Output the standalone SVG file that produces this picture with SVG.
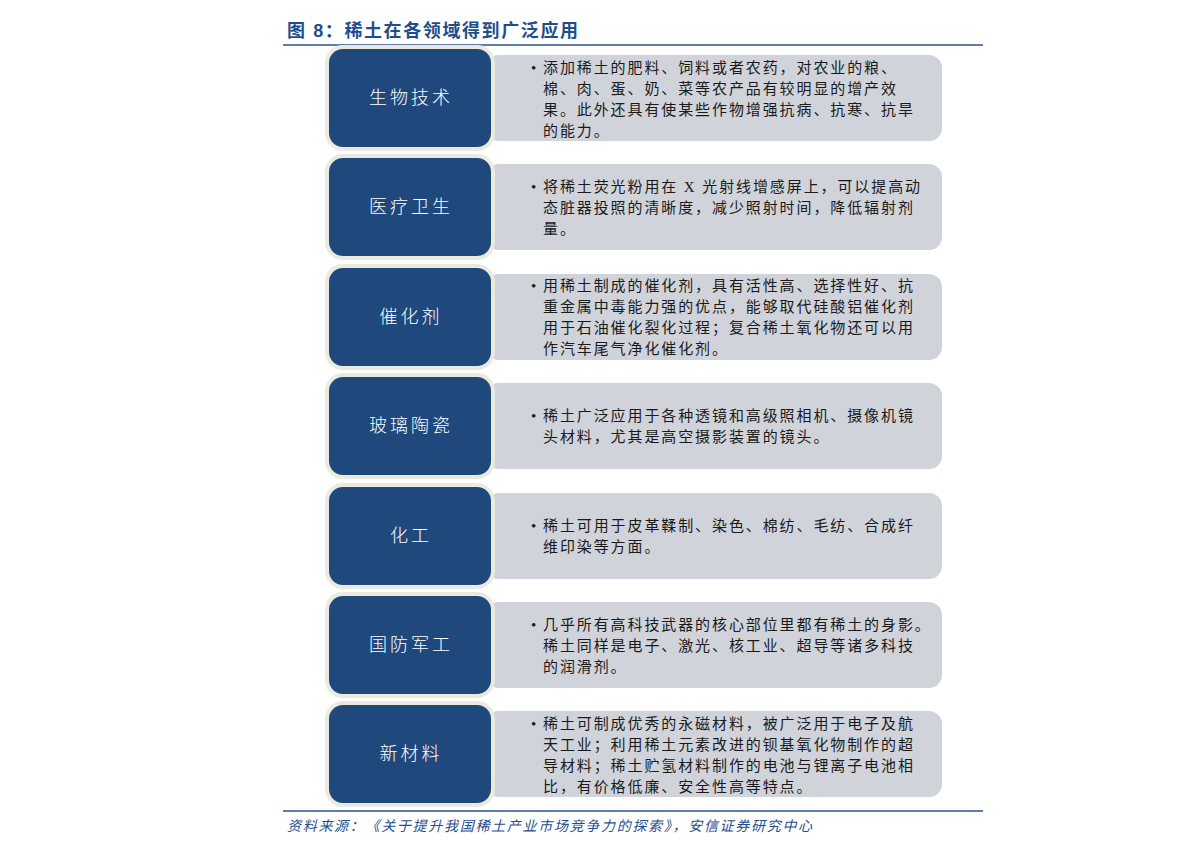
<svg xmlns="http://www.w3.org/2000/svg" width="1191" height="853" viewBox="0 0 1191 853">
<style>
.title{font-family:"Liberation Sans","Noto Sans CJK SC",sans-serif;font-size:18px;font-weight:bold;fill:#1f4e8c;letter-spacing:1.6px}
.src{font-family:"Liberation Serif","Noto Sans CJK SC",serif;font-size:14px;font-style:italic;fill:#1f4e8c;letter-spacing:1.7px}
.rule{stroke:#2c4f8f;stroke-width:1.5}
.blue{fill:#1f497d;stroke:#ebeadf;stroke-width:4}
.gray{fill:#d0d3da}
.lbl{font-family:"Noto Sans CJK SC",sans-serif;font-size:18px;font-weight:300;fill:#ffffff;text-anchor:middle;letter-spacing:3px}
.txt{font-family:"Liberation Serif","Noto Sans CJK SC",serif;font-size:15px;fill:#1a1a1a;letter-spacing:1.9px}
</style>
<rect width="1191" height="853" fill="#ffffff"/>
<text class="title" x="287" y="37">图 8：稀土在各领域得到广泛应用</text>
<line class="rule" x1="283" y1="45" x2="983" y2="45"/>
<line class="rule" x1="283" y1="811" x2="983" y2="811"/>
<text class="src" x="287" y="831">资料来源：《关于提升我国稀土产业市场竞争力的探索》，安信证券研究中心</text>
<g id="connectors"></g>
<g id="row1">
<rect class="gray" x="486" y="55" width="456" height="86" rx="13"/>
<rect class="blue" x="327" y="47" width="166" height="102" rx="16"/>
<text class="lbl" x="411" y="104">生物技术</text>
<text class="txt" x="531" y="72.5">•<tspan x="543">添加稀土的肥料、饲料或者农药，对农业的粮、</tspan><tspan x="543" dy="21">棉、肉、蛋、奶、菜等农产品有较明显的增产效</tspan><tspan x="543" dy="21">果。此外还具有使某些作物增强抗病、抗寒、抗旱</tspan><tspan x="543" dy="21">的能力。</tspan></text>
</g>
<g id="row2">
<rect class="gray" x="486" y="164" width="456" height="86" rx="13"/>
<rect class="blue" x="327" y="156" width="166" height="102" rx="16"/>
<text class="lbl" x="411" y="213">医疗卫生</text>
<text class="txt" x="531" y="191.5">•<tspan x="543">将稀土荧光粉用在 X 光射线增感屏上，可以提高动</tspan><tspan x="543" dy="21">态脏器投照的清晰度，减少照射时间，降低辐射剂</tspan><tspan x="543" dy="21">量。</tspan></text>
</g>
<g id="row3">
<rect class="gray" x="486" y="274" width="456" height="86" rx="13"/>
<rect class="blue" x="327" y="266" width="166" height="102" rx="16"/>
<text class="lbl" x="411" y="323">催化剂</text>
<text class="txt" x="531" y="291">•<tspan x="543">用稀土制成的催化剂，具有活性高、选择性好、抗</tspan><tspan x="543" dy="21">重金属中毒能力强的优点，能够取代硅酸铝催化剂</tspan><tspan x="543" dy="21">用于石油催化裂化过程；复合稀土氧化物还可以用</tspan><tspan x="543" dy="21">作汽车尾气净化催化剂。</tspan></text>
</g>
<g id="row4">
<rect class="gray" x="486" y="383" width="456" height="86" rx="13"/>
<rect class="blue" x="327" y="375" width="166" height="102" rx="16"/>
<text class="lbl" x="411" y="432">玻璃陶瓷</text>
<text class="txt" x="531" y="420.5">•<tspan x="543">稀土广泛应用于各种透镜和高级照相机、摄像机镜</tspan><tspan x="543" dy="21">头材料，尤其是高空摄影装置的镜头。</tspan></text>
</g>
<g id="row5">
<rect class="gray" x="486" y="493" width="456" height="86" rx="13"/>
<rect class="blue" x="327" y="485" width="166" height="102" rx="16"/>
<text class="lbl" x="411" y="542">化工</text>
<text class="txt" x="531" y="530.5">•<tspan x="543">稀土可用于皮革鞣制、染色、棉纺、毛纺、合成纤</tspan><tspan x="543" dy="21">维印染等方面。</tspan></text>
</g>
<g id="row6">
<rect class="gray" x="486" y="602" width="456" height="86" rx="13"/>
<rect class="blue" x="327" y="594" width="166" height="102" rx="16"/>
<text class="lbl" x="411" y="651">国防军工</text>
<text class="txt" x="531" y="629.5">•<tspan x="543">几乎所有高科技武器的核心部位里都有稀土的身影。</tspan><tspan x="543" dy="21">稀土同样是电子、激光、核工业、超导等诸多科技</tspan><tspan x="543" dy="21">的润滑剂。</tspan></text>
</g>
<g id="row7">
<rect class="gray" x="486" y="711" width="456" height="86" rx="13"/>
<rect class="blue" x="327" y="703" width="166" height="102" rx="16"/>
<text class="lbl" x="411" y="760">新材料</text>
<text class="txt" x="531" y="728.5">•<tspan x="543">稀土可制成优秀的永磁材料，被广泛用于电子及航</tspan><tspan x="543" dy="21">天工业；利用稀土元素改进的钡基氧化物制作的超</tspan><tspan x="543" dy="21">导材料；稀土贮氢材料制作的电池与锂离子电池相</tspan><tspan x="543" dy="21">比，有价格低廉、安全性高等特点。</tspan></text>
</g>
</svg>
